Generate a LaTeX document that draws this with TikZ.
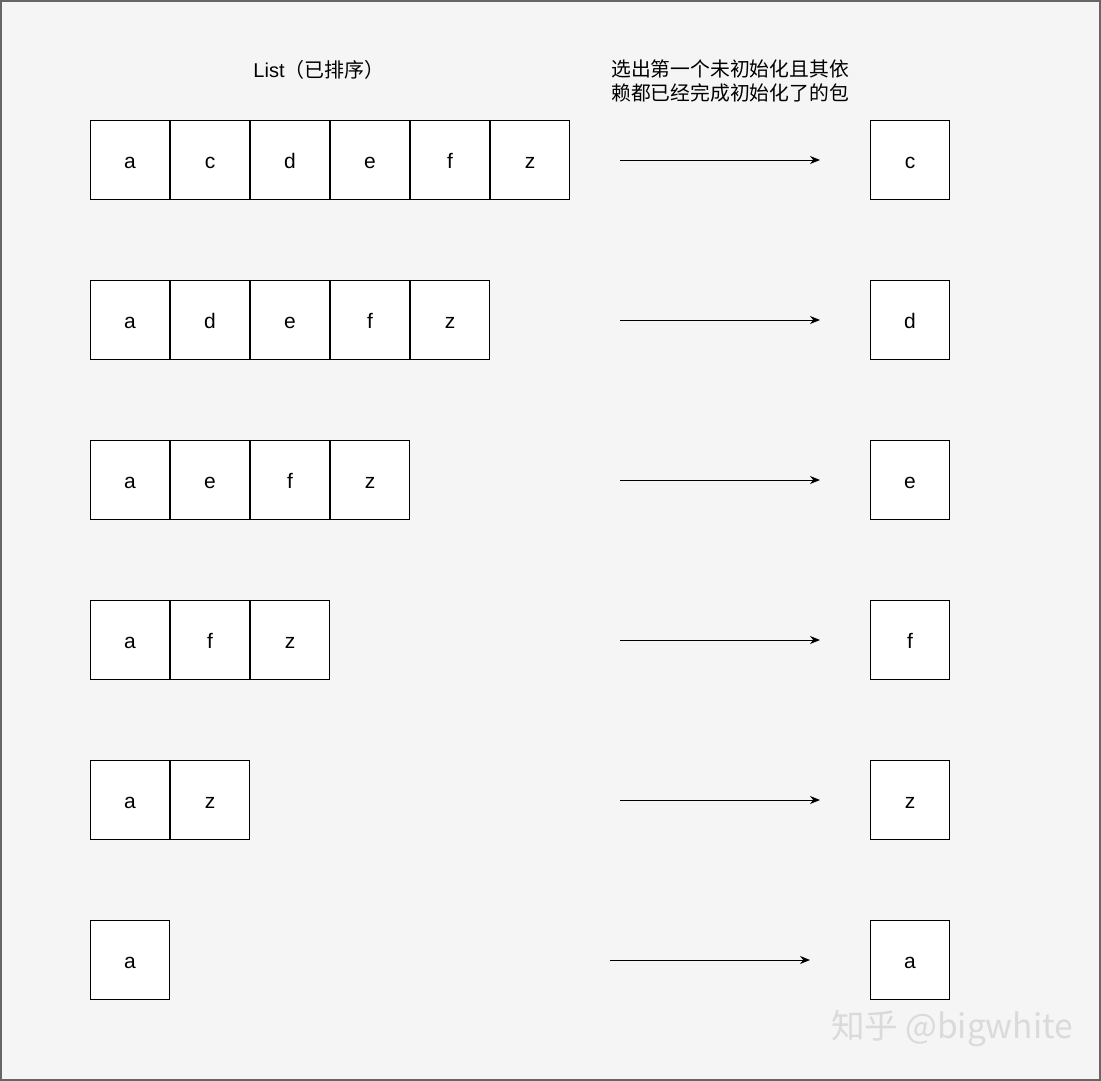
\documentclass[tikz,border=0pt]{standalone}
\usepackage{fontspec}
\setmainfont{Liberation Sans}
\newfontfamily\cjk{Noto Sans CJK SC}
\usetikzlibrary{arrows.meta}
\tikzset{
    cell/.style={draw, fill=white, line width=1pt, minimum size=79pt, inner sep=0pt, text height=16pt, text depth=0pt, font=\fontsize{21}{25}\selectfont},
    pick/.style={-{Stealth[length=10pt,width=8pt]}, line width=1pt},
}
\begin{document}
\begin{tikzpicture}[x=1pt,y=-1pt]
    \useasboundingbox (0,0) rectangle (1101,1081);
    \filldraw[fill={rgb,255:red,245;green,245;blue,245}, draw={rgb,255:red,102;green,102;blue,102}, line width=2pt] (1,1) rectangle (1100,1080);
    % headings
    \node[font=\fontsize{20}{24}\selectfont](title) at (319,70) {List{\cjk （已排序）}};
    \node[align=left, font=\cjk\fontsize{19.8}{24}\selectfont](rule) at (730,81) {选出第一个未初始化且其依\\赖都已经完成初始化了的包};
    % row 1
    \node[cell](a1) at (130,160) {a};
    \node[cell](c1) at (210,160) {c};
    \node[cell](d1) at (290,160) {d};
    \node[cell](e1) at (370,160) {e};
    \node[cell](f1) at (450,160) {f};
    \node[cell](z1) at (530,160) {z};
    \node[cell](r1) at (910,160) {c};
    % row 2
    \node[cell](a2) at (130,320) {a};
    \node[cell](d2) at (210,320) {d};
    \node[cell](e2) at (290,320) {e};
    \node[cell](f2) at (370,320) {f};
    \node[cell](z2) at (450,320) {z};
    \node[cell](r2) at (910,320) {d};
    % row 3
    \node[cell](a3) at (130,480) {a};
    \node[cell](e3) at (210,480) {e};
    \node[cell](f3) at (290,480) {f};
    \node[cell](z3) at (370,480) {z};
    \node[cell](r3) at (910,480) {e};
    % row 4
    \node[cell](a4) at (130,640) {a};
    \node[cell](f4) at (210,640) {f};
    \node[cell](z4) at (290,640) {z};
    \node[cell](r4) at (910,640) {f};
    % row 5
    \node[cell](a5) at (130,800) {a};
    \node[cell](z5) at (210,800) {z};
    \node[cell](r5) at (910,800) {z};
    % row 6
    \node[cell](a6) at (130,960) {a};
    \node[cell](r6) at (910,960) {a};
    % arrows
    \coordinate (s1) at (620,160); \coordinate (t1) at (820,160);
    \coordinate (s2) at (620,320); \coordinate (t2) at (820,320);
    \coordinate (s3) at (620,480); \coordinate (t3) at (820,480);
    \coordinate (s4) at (620,640); \coordinate (t4) at (820,640);
    \coordinate (s5) at (620,800); \coordinate (t5) at (820,800);
    \coordinate (s6) at (610,960); \coordinate (t6) at (810,960);
    \draw[pick] (s1)--(t1);
    \draw[pick] (s2)--(t2);
    \draw[pick] (s3)--(t3);
    \draw[pick] (s4)--(t4);
    \draw[pick] (s5)--(t5);
    \draw[pick] (s6)--(t6);
    % watermark
    \node[text={rgb,255:red,218;green,218;blue,218}, font=\cjk\fontsize{33.5}{38}\selectfont](mark) at (952,1029) {知乎 @bigwhite};
\end{tikzpicture}
\end{document}
